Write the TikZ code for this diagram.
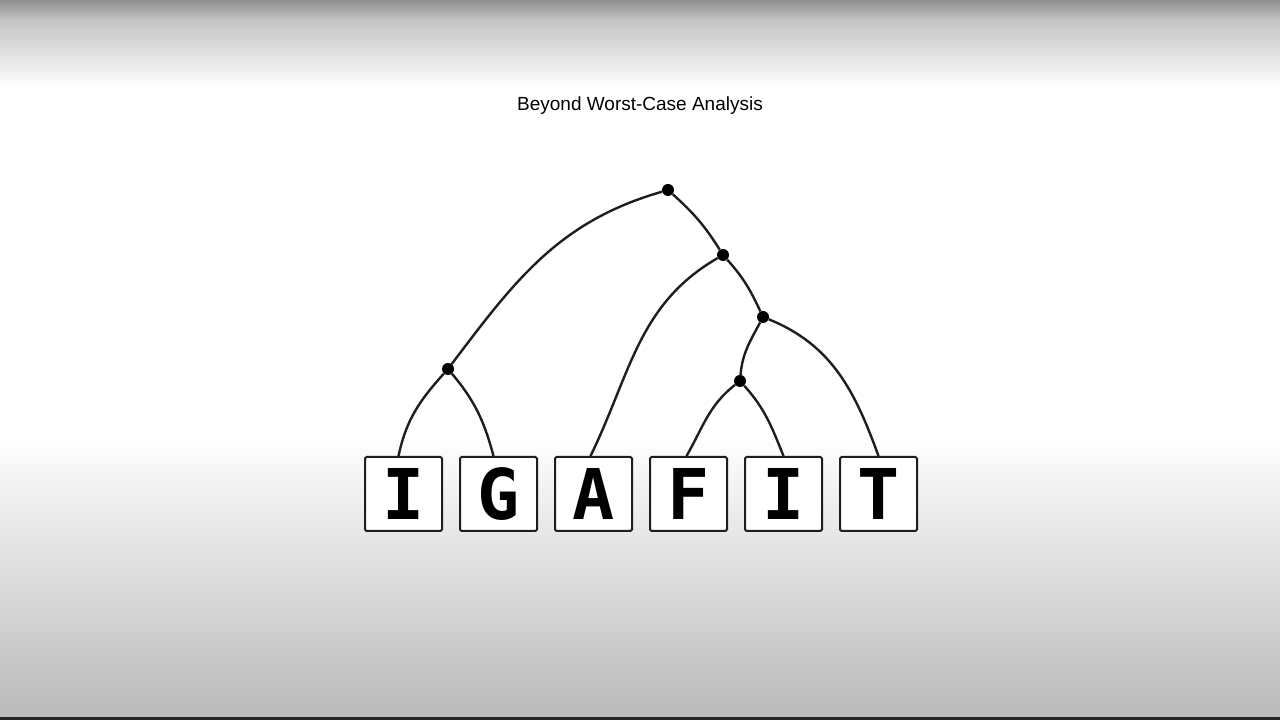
\documentclass[tikz,border=0pt]{standalone}
\usepackage{fontspec}
\setmainfont{Liberation Sans}
\newfontfamily\leaffont{DejaVu Sans Mono}
\usetikzlibrary{positioning}
\definecolor{BgTop}{HTML}{8E8E8E}
\definecolor{BgMid}{HTML}{C4C4C4}
\definecolor{BgBottom}{HTML}{BBBBBB}
\definecolor{TreeInk}{HTML}{1E1E1E}
\tikzset{
  branch/.style={TreeInk,line width=2.4pt},
  joint/.style={circle,fill=black,inner sep=0pt,minimum size=12pt},
  leaf/.style={draw=TreeInk,line width=2pt,rounded corners=1.5pt,fill=white,
               minimum width=77pt,minimum height=74pt,inner sep=0pt,
               font=\leaffont\bfseries\fontsize{70}{70}\selectfont},
  title/.style={text=black,font=\fontsize{19}{22}\selectfont},
}
\begin{document}
\begin{tikzpicture}[x=1pt,y=1pt]
    % background of the slide
    \useasboundingbox (0,0) rectangle (1280,720);
    \fill[white] (0,0) rectangle (1280,720);
    \shade[top color=BgMid,bottom color=white] (0,632) rectangle (1280,700);
    \shade[top color=BgTop,bottom color=BgMid] (0,700) rectangle (1280,720);
    \shade[top color=white,bottom color=BgBottom] (0,8) rectangle (1280,285);
    \fill[BgBottom] (0,3) rectangle (1280,8);
    \fill[black!85] (0,0) rectangle (1280,3);

    \node[title] (head) at (640,614) {Beyond Worst-Case Analysis};

    % leaves
    \node[leaf] (lfI) at (403.5,226) {I};
    \node[leaf,right=16pt of lfI] (lfG) {G};
    \node[leaf,right=16pt of lfG] (lfA) {A};
    \node[leaf,right=16pt of lfA] (lfF) {F};
    \node[leaf,right=16pt of lfF] (lfIb) {I};
    \node[leaf,right=16pt of lfIb] (lfT) {T};

    % inner joints of the tree
    \node[joint] (root) at (668,530) {};
    \node[joint] (jIG) at (448,351) {};
    \node[joint] (jAFIT) at (723,465) {};
    \node[joint] (jFIT) at (763,403) {};
    \node[joint] (jFI) at (740,339) {};

    \draw[branch] (root) to[out=196,in=53] (jIG);
    \draw[branch] (root) to[out=-42,in=122] (jAFIT);
    \draw[branch] (jIG) to[out=228,in=78] ([xshift=-5pt]lfI.north);
    \draw[branch] (jIG) to[out=-50,in=105] ([xshift=-5pt]lfG.north);
    \draw[branch] (jAFIT) to[out=210,in=64] ([xshift=-3pt]lfA.north);
    \draw[branch] (jAFIT) to[out=-48,in=115] (jFIT);
    \draw[branch] (jFIT) to[out=242,in=85] (jFI);
    \draw[branch] (jFIT) to[out=-22,in=110] (lfT.north);
    \draw[branch] (jFI) to[out=218,in=60] ([xshift=-2pt]lfF.north);
    \draw[branch] (jFI) to[out=-48,in=112] (lfIb.north);
\end{tikzpicture}
\end{document}
